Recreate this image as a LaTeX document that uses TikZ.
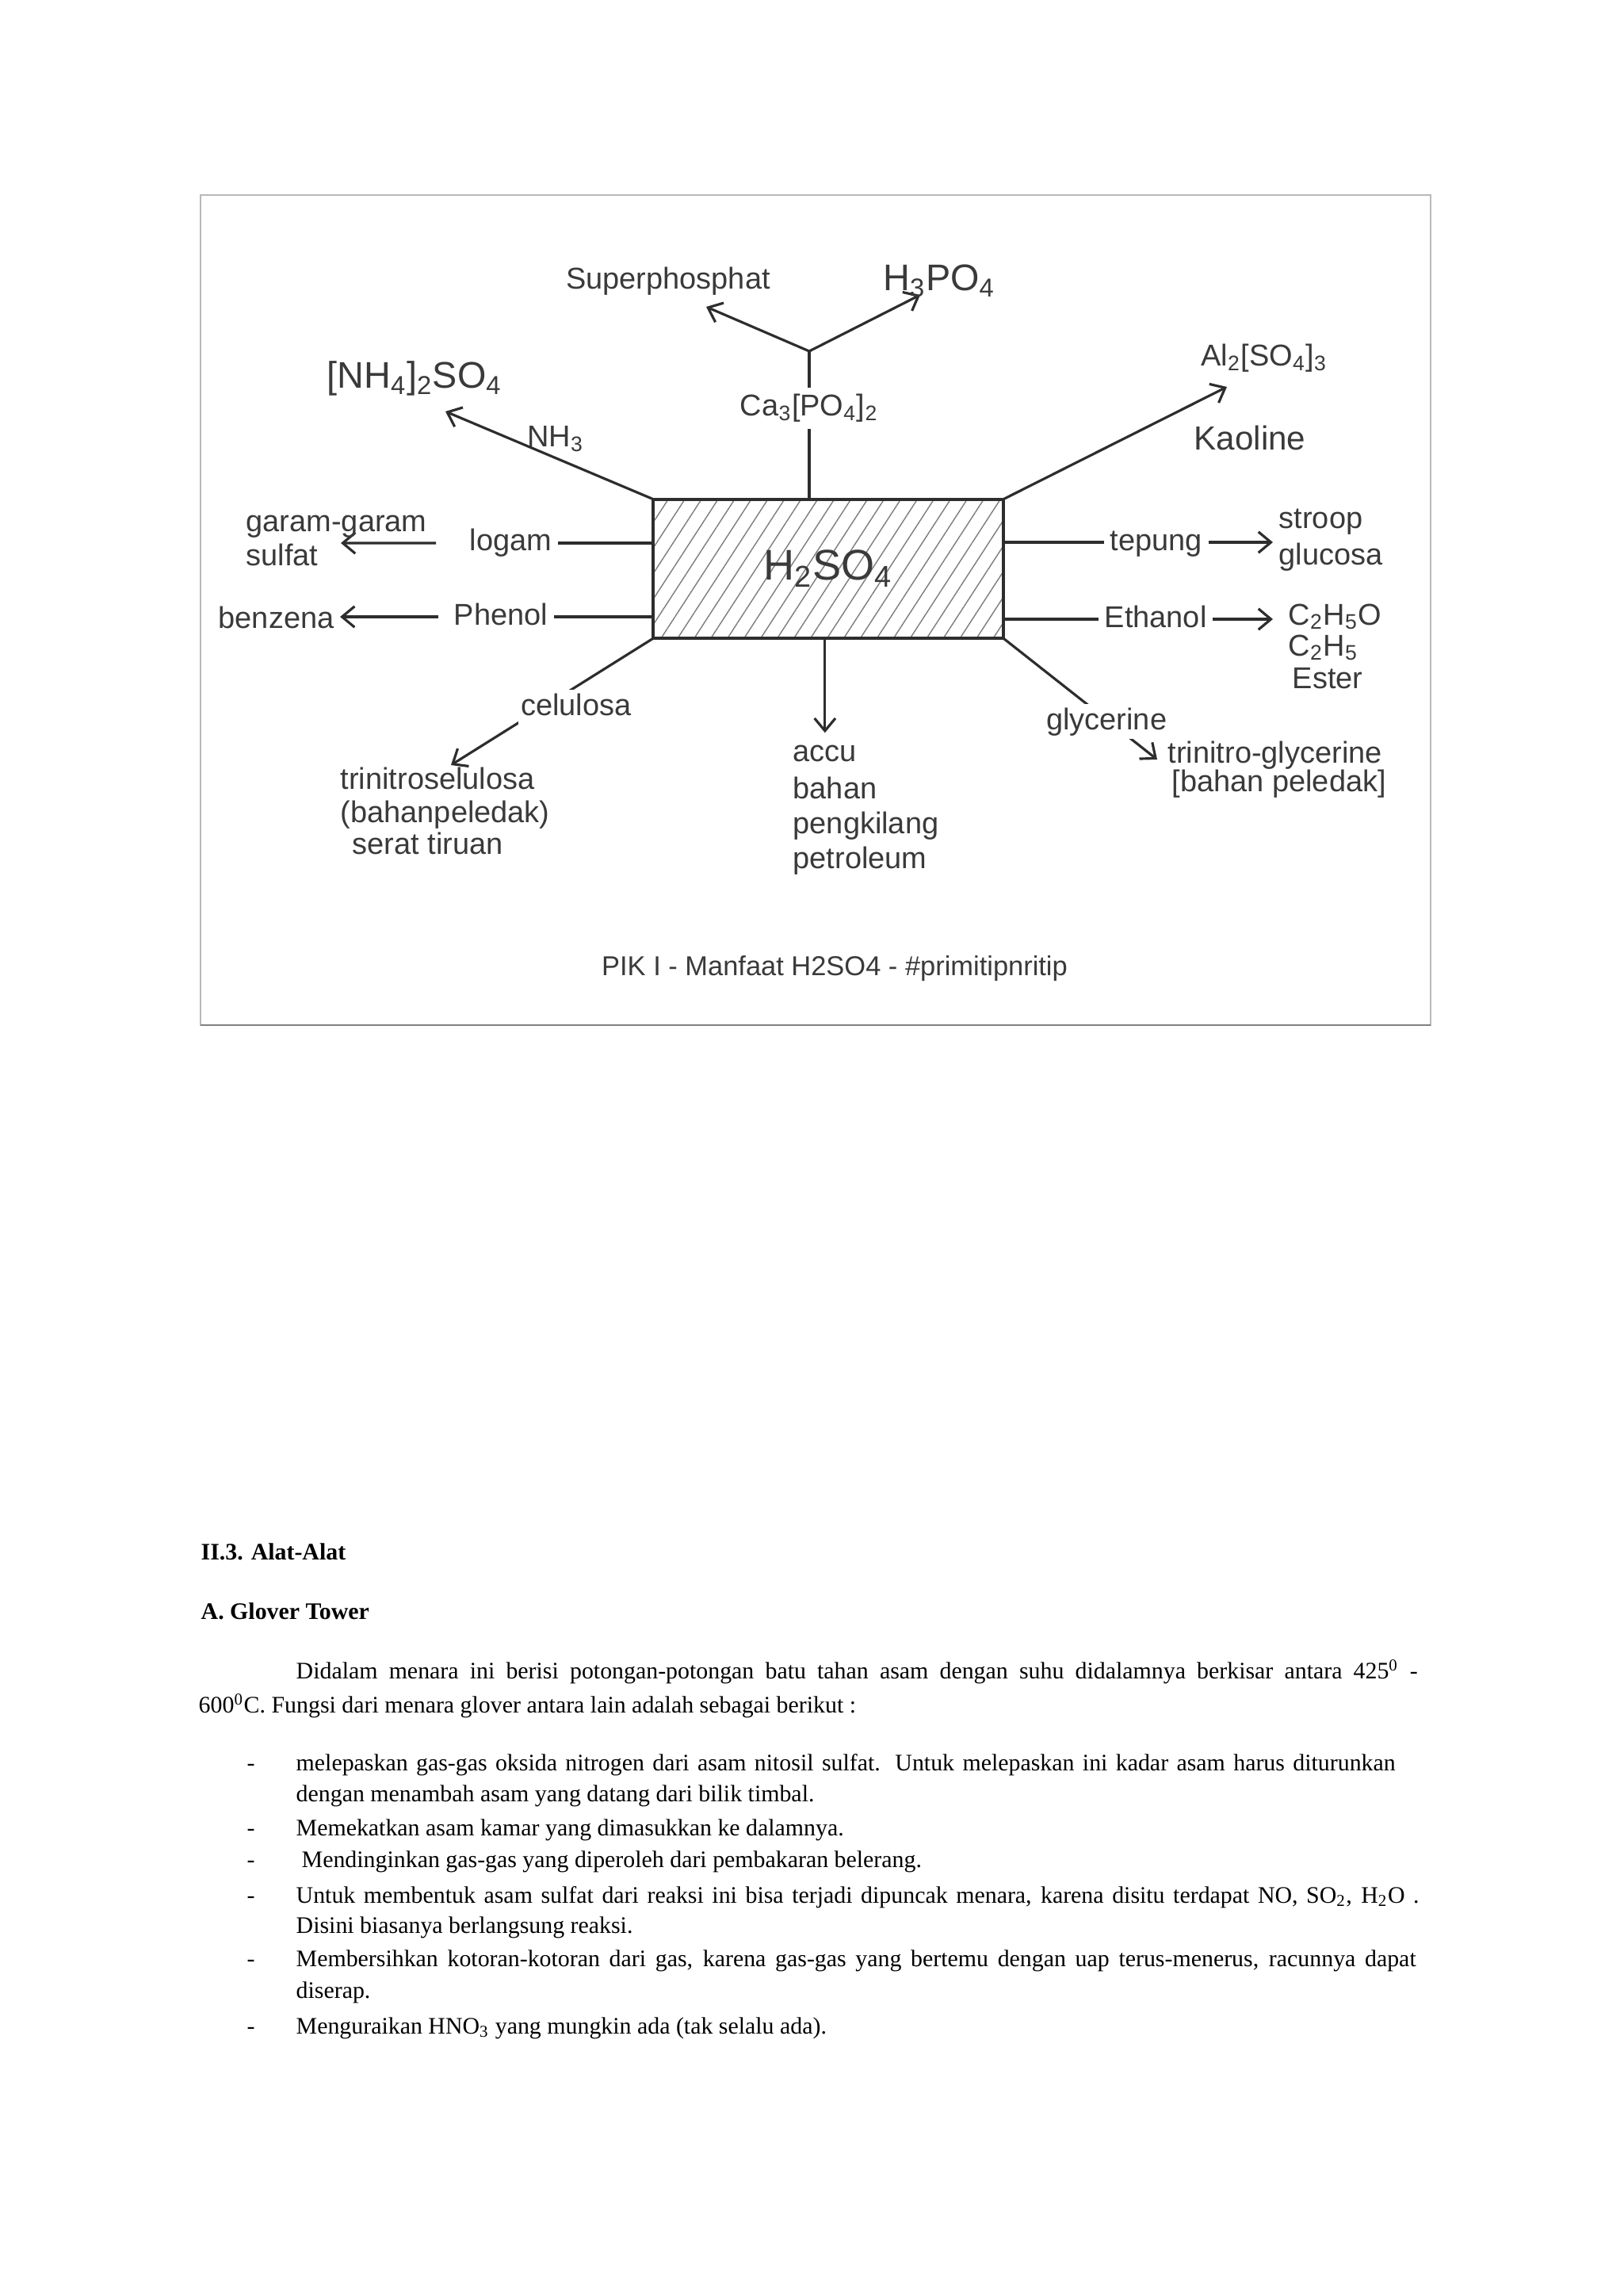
\documentclass[tikz,border=0pt]{standalone}
\usepackage{fontspec}
\setmainfont{Liberation Serif}
\newfontfamily\figfont{Liberation Sans}
\usepackage{tikz}
\usetikzlibrary{arrows.meta,patterns.meta,positioning,backgrounds,calc}
\definecolor{inkgray}{RGB}{58,58,58}
\definecolor{inkline}{RGB}{45,45,45}
\definecolor{framegray}{RGB}{185,185,185}
\definecolor{hatchgray}{RGB}{125,125,125}

\begin{document}
\begin{tikzpicture}
\tikzstyle{chem} = [inner sep=2pt, text height=0.28cm, text depth=0.08cm, text=inkgray, font=\figfont\fontsize{10.8}{13}\selectfont]
\tikzstyle{bigchem} = [inner sep=2pt, text=inkgray, font=\figfont\fontsize{13.3}{16}\selectfont]
\tikzstyle{line} = [line width=0.9pt, draw=inkline]
\tikzstyle{arrow} = [line width=0.9pt, draw=inkline, -{Straight Barb[length=4.5pt,width=7.5pt]}]
\tikzstyle{para} = [anchor=base west, inner sep=0pt, font=\fontsize{8.5}{10}\selectfont]
\tikzstyle{head} = [anchor=base west, inner sep=0pt, font=\bfseries\fontsize{8.5}{10}\selectfont]

\useasboundingbox (0,0) rectangle (20.48,-28.96);

% figure frame
\draw[framegray, line width=0.6pt] (2.53,-2.46) rectangle (18.05,-12.93);
\draw[gray, line width=0.8pt] (2.53,-12.93) -- (18.05,-12.93);

% central box
\node (h2so) [draw=inkline, line width=1.4pt, minimum width=4.42cm, minimum height=1.75cm, pattern={Lines[angle=57,distance=5pt,line width=0.4pt]}, pattern color=hatchgray, text=inkgray, font=\figfont\fontsize{15.4}{18}\selectfont] at (10.45,-7.175) {H\textsubscript{2}SO\textsubscript{4}};

% top
\node (superphos) [chem, anchor=base] at (8.43,-3.65) {Superphosphat};
\node (phosacid) [bigchem, anchor=base] at (11.85,-3.67) {H\textsubscript{3}PO\textsubscript{4}};
\node (calphos) [chem, anchor=base] at (10.21,-5.25) {Ca\textsubscript{3}[PO\textsubscript{4}]\textsubscript{2}};
\node (ammsulf) [bigchem, anchor=base] at (5.23,-4.90) {[NH\textsubscript{4}]\textsubscript{2}SO\textsubscript{4}};
\node (ammonia) [chem, anchor=base] at (7.01,-5.64) {NH\textsubscript{3}};
\node (alum) [chem, anchor=base] at (15.95,-4.62) {Al\textsubscript{2}[SO\textsubscript{4}]\textsubscript{3}};
\node (kaoline) [chem, anchor=base, font=\figfont\fontsize{12}{14}\selectfont] at (15.77,-5.68) {Kaoline};

% left
\node (garam) [chem, anchor=base west] at (3.03,-6.70) {garam-garam};
\node (sulfat) [chem, anchor=base west] at (3.03,-7.13) {sulfat};
\node (logam) [chem, anchor=base west] at (5.85,-6.95) {logam};
\node (benzena) [chem, anchor=base west] at (2.68,-7.92) {benzena};
\node (phenol) [chem, anchor=base west] at (5.65,-7.88) {Phenol};

% right
\node (tepung) [chem, anchor=base west] at (13.93,-6.94) {tepung};
\node (stroop) [chem, anchor=base west] at (16.06,-6.67) {stroop};
\node (glucosa) [chem, anchor=base west] at (16.06,-7.12) {glucosa};
\node (ethanol) [chem, anchor=base west] at (13.86,-7.91) {Ethanol};
\node (ethoxy) [chem, anchor=base west] at (16.18,-7.88) {C\textsubscript{2}H\textsubscript{5}O};
\node (ethyl) [chem, anchor=base west] at (16.18,-8.27) {C\textsubscript{2}H\textsubscript{5}};
\node (ester) [chem, anchor=base west] at (16.23,-8.68) {Ester};

% bottom
\node (celulosa) [chem, anchor=base west, fill=white, inner sep=1pt] at (6.53,-9.02) {celulosa};
\node (trinitrosel) [chem, anchor=base west] at (4.22,-9.95) {trinitroselulosa};
\node (bahanpel) [chem, anchor=base west] at (4.22,-10.37) {(bahanpeledak)};
\node (serat) [chem, anchor=base west] at (4.37,-10.77) {serat tiruan};
\node (accu) [chem, anchor=base west] at (9.93,-9.60) {accu};
\node (bahan) [chem, anchor=base west] at (9.93,-10.07) {bahan};
\node (pengkilang) [chem, anchor=base west] at (9.93,-10.51) {pengkilang};
\node (petroleum) [chem, anchor=base west] at (9.93,-10.95) {petroleum};
\node (glycerine) [chem, anchor=base west, fill=white, inner sep=1pt] at (13.16,-9.20) {glycerine};
\node (trinitrogly) [chem, anchor=base west] at (14.66,-9.62) {trinitro-glycerine};
\node (peledak) [chem, anchor=base west] at (14.71,-9.98) {[bahan peledak]};

\node (caption) [anchor=base, text=inkgray, font=\figfont\fontsize{9.8}{12}\selectfont] at (10.53,-12.30) {PIK I - Manfaat H2SO4 - \#primitipnritip};

% free arrow ends
\coordinate (fork) at (10.21,-4.43);
\coordinate (suptip) at (8.91,-3.87);
\coordinate (h3tip) at (11.61,-3.72);
\coordinate (nhtip) at (5.62,-5.19);
\coordinate (altip) at (15.48,-4.88);
\coordinate (garamtip) at (4.30,-6.85);
\coordinate (celtip) at (5.69,-9.65);
\coordinate (glytip) at (14.60,-9.58);

\begin{scope}[on background layer]
\fill[white] (0,0) rectangle (20.48,-28.96);
\draw [line] (calphos.south |- h2so.north) -- (calphos.south);
\draw [line] (calphos.north) -- (fork);
\draw [arrow] (fork) -- (suptip);
\draw [arrow] (fork) -- (h3tip);
\draw [arrow] (h2so.north west) -- (nhtip);
\draw [arrow] (h2so.north east) -- (altip);
\draw [line] (h2so.west |- logam.east) -- (logam.east);
\draw [arrow, shorten <=0.35cm] (logam.west) -- (garamtip);
\draw [line] (h2so.west |- phenol.east) -- (phenol.east);
\draw [arrow, shorten <=0.12cm] (phenol.west) -- (phenol.west -| benzena.east);
\draw [line] (h2so.east |- tepung.west) -- (tepung.west);
\draw [arrow] (tepung.east) -- (tepung.east -| stroop.west);
\draw [line] (h2so.east |- ethanol.west) -- (ethanol.west);
\draw [arrow, shorten >=0.12cm] (ethanol.east) -- (ethanol.east -| ethoxy.west);
\draw [arrow] (h2so.south west) -- (celtip);
\draw [arrow] (accu.north |- h2so.south) -- (accu.north);
\draw [arrow] (h2so.south east) -- (glytip);
\end{scope}

% text below the figure
\node (sechead) [head] at (2.53,-19.67) {II.3. Alat-Alat};
\node (subhead) [head] at (2.53,-20.42) {A. Glover Tower};
\node (para1) [para] at (3.73,-21.17) {\makebox[14.15cm][s]{Didalam menara ini berisi potongan-potongan batu tahan asam dengan suhu didalamnya berkisar antara 425\textsuperscript{0} -}};
\node (para2) [para] at (2.50,-21.60) {600\textsuperscript{0}C. Fungsi dari menara glover antara lain adalah sebagai berikut :};

\node (dash1) [para] at (3.11,-22.33) {-};
\node (dash2) [para] at (3.11,-23.15) {-};
\node (dash3) [para] at (3.11,-23.55) {-};
\node (dash4) [para] at (3.11,-24.00) {-};
\node (dash5) [para] at (3.11,-24.80) {-};
\node (dash6) [para] at (3.11,-25.65) {-};

\node (item1a) [para] at (3.73,-22.33) {\makebox[13.87cm][s]{melepaskan gas-gas oksida nitrogen dari asam nitosil sulfat. Untuk melepaskan ini kadar asam harus diturunkan}};
\node (item1b) [para] at (3.73,-22.72) {dengan menambah asam yang datang dari bilik timbal.};
\node (item2) [para] at (3.73,-23.15) {Memekatkan asam kamar yang dimasukkan ke dalamnya.};
\node (item3) [para] at (3.80,-23.55) {Mendinginkan gas-gas yang diperoleh dari pembakaran belerang.};
\node (item4a) [para] at (3.73,-24.00) {\makebox[14.17cm][s]{Untuk membentuk asam sulfat dari reaksi ini bisa terjadi dipuncak menara, karena disitu terdapat NO, SO\textsubscript{2}, H\textsubscript{2}O .}};
\node (item4b) [para] at (3.73,-24.38) {Disini biasanya berlangsung reaksi.};
\node (item5a) [para] at (3.73,-24.80) {\makebox[14.13cm][s]{Membersihkan kotoran-kotoran dari gas, karena gas-gas yang bertemu dengan uap terus-menerus, racunnya dapat}};
\node (item5b) [para] at (3.73,-25.20) {diserap.};
\node (item6) [para] at (3.73,-25.65) {Menguraikan HNO\textsubscript{3} yang mungkin ada (tak selalu ada).};
\end{tikzpicture}
\end{document}
